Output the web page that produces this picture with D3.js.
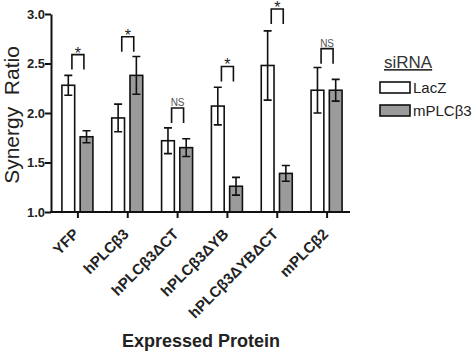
<!DOCTYPE html>
<html lang="en">
<head>
<meta charset="UTF-8">
<title>Synergy Ratio</title>
<script src="https://d3js.org/d3.v7.min.js"></script>
<style>
body { margin: 0; background: #fff; }
svg { font-family: "Liberation Sans", Arial, sans-serif; }
.axis text { font-size: 13px; font-weight: bold; fill: #222; }
.axis line, .axis path { stroke: #111; stroke-width: 2; }
.bar { stroke: #111; stroke-width: 1.6; }
.err { stroke: #111; stroke-width: 1.6; fill: none; }
.bracket { stroke: #111; stroke-width: 1.6; fill: none; }
</style>
</head>
<body>
<script>
// data
var proteins = ["YFP", "hPLCβ3", "hPLCβ3ΔCT", "hPLCβ3ΔYB", "hPLCβ3ΔYBΔCT", "mPLCβ2"];
var series = ["LacZ", "mPLCβ3"];
var lacz = [2.28, 1.95, 1.72, 2.07, 2.48, 2.23];
var laczErr = [0.10, 0.14, 0.13, 0.19, 0.35, 0.23];
var mplc = [1.76, 2.38, 1.65, 1.26, 1.39, 2.23];
var mplcErr = [0.06, 0.19, 0.09, 0.09, 0.08, 0.11];
var sigLabel = ["*", "*", "NS", "*", "*", "NS"];
var sigTop = [2.59, 2.77, 2.05, 2.47, 3.05, 2.65];
var yTicks = [1.0, 1.5, 2.0, 2.5, 3.0];
var colors = ["#ffffff", "#9b9b9b"];

var width = 474, height = 353;
var svg = d3.select("body").append("svg")
    .attr("width", width)
    .attr("height", height);

var x = d3.scaleBand().domain(proteins).range([53, 352]);
var xInner = d3.scaleBand().domain(series).range([-16, 15]).paddingInner(0.3);
var y = d3.scaleLinear().domain([1, 3]).range([212, 14]);

var rows = [];
proteins.forEach(function(p, i) {
    rows.push({p: p, s: series[0], v: lacz[i], e: laczErr[i]});
    rows.push({p: p, s: series[1], v: mplc[i], e: mplcErr[i]});
});
function cx(p) { return x(p) + x.bandwidth() / 2; }

// bars
svg.append("g").selectAll("rect")
    .data(rows).enter().append("rect")
    .attr("class", "bar")
    .attr("x", function(d) { return cx(d.p) + xInner(d.s); })
    .attr("width", xInner.bandwidth())
    .attr("y", function(d) { return y(d.v); })
    .attr("height", function(d) { return y(1) - y(d.v); })
    .attr("fill", function(d) { return colors[series.indexOf(d.s)]; });

// error bars
var eg = svg.append("g").selectAll("g").data(rows).enter().append("g").attr("class", "err");
eg.append("path").attr("d", function(d) {
    var m = cx(d.p) + xInner(d.s) + xInner.bandwidth() / 2;
    var t = y(d.v + d.e), b = y(d.v - d.e);
    return "M" + m + "," + t + "V" + b +
        "M" + (m - 4) + "," + t + "H" + (m + 4) +
        "M" + (m - 4) + "," + b + "H" + (m + 4);
});

// significance brackets
var sg = svg.append("g").selectAll("g").data(proteins).enter().append("g");
sg.append("path").attr("class", "bracket").attr("d", function(p, i) {
    var c = cx(p), t = y(sigTop[i]);
    return "M" + (c - 6) + "," + (t + 15) + "V" + t + "H" + (c + 6) + "V" + (t + 15);
});
sg.append("text")
    .attr("x", function(p) { return cx(p); })
    .attr("y", function(p, i) { return y(sigTop[i]) + (sigLabel[i] === "*" ? 4 : -2); })
    .attr("text-anchor", "middle")
    .style("font-size", function(p, i) { return sigLabel[i] === "*" ? "16px" : "10px"; })
    .style("fill", function(p, i) { return sigLabel[i] === "*" ? "#222" : "#555"; })
    .text(function(p, i) { return sigLabel[i]; });

// axes
var yAxis = svg.append("g").attr("class", "axis")
    .attr("transform", "translate(51,0)")
    .call(d3.axisLeft(y).tickValues(yTicks).tickFormat(d3.format(".1f")).tickSize(6).tickSizeOuter(0));
yAxis.selectAll("text").attr("x", -6);

var xAxis = svg.append("g").attr("class", "axis")
    .attr("transform", "translate(0,212)")
    .call(d3.axisBottom(x).tickSize(6).tickSizeOuter(0));
xAxis.select(".domain").remove();
xAxis.append("line").attr("x1", 50).attr("x2", 350).attr("y1", 0).attr("y2", 0);
xAxis.selectAll("text")
    .style("font-size", "15px")
    .attr("text-anchor", "end")
    .attr("x", 0).attr("y", 0).attr("dy", null)
    .attr("transform", "translate(2,23) rotate(-45)");

// axis titles
svg.append("text")
    .attr("transform", "translate(19,115) rotate(-90)")
    .attr("text-anchor", "middle")
    .style("font-size", "21px")
    .style("fill", "#222")
    .style("white-space", "pre")
    .text("Synergy  Ratio");

svg.append("text")
    .attr("x", 201).attr("y", 347)
    .attr("text-anchor", "middle")
    .style("font-size", "18px")
    .style("font-weight", "bold")
    .style("fill", "#222")
    .text("Expressed Protein");

// legend
var legend = svg.append("g").attr("transform", "translate(380,0)");
legend.append("text")
    .attr("x", 4).attr("y", 68)
    .style("font-size", "17px")
    .style("fill", "#333")
    .style("text-decoration", "underline")
    .text("siRNA");
var li = legend.selectAll(".li").data(series).enter().append("g")
    .attr("transform", function(d, i) { return "translate(0," + (82 + i * 23) + ")"; });
li.append("rect")
    .attr("width", 30).attr("height", 11)
    .attr("fill", function(d, i) { return colors[i]; })
    .attr("stroke", "#111").attr("stroke-width", 1.6);
li.append("text")
    .attr("x", 33).attr("y", 11)
    .style("font-size", "15px")
    .style("fill", "#222")
    .text(function(d) { return d; });
</script>
</body>
</html>
